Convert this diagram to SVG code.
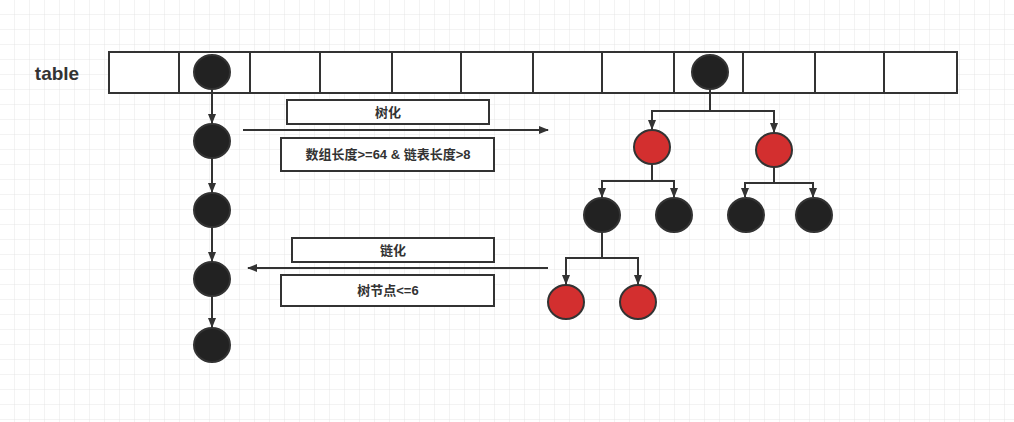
<svg xmlns="http://www.w3.org/2000/svg" width="1014" height="422" viewBox="0 0 1014 422">
<defs>
<pattern id="g" width="15" height="15" patternUnits="userSpaceOnUse"><path d="M15 0V15H0" fill="none" stroke="#e6e6e6" stroke-width="1"/></pattern>
<marker id="a" markerWidth="10" markerHeight="10" refX="9" refY="5" orient="auto" markerUnits="userSpaceOnUse"><path d="M0 1L10 5L0 9Z" fill="#333"/></marker>
</defs>
<style>
.b{fill:#222;stroke:#333;stroke-width:2}
.r{fill:#d32f2f;stroke:#333;stroke-width:2}
.c{fill:none;stroke:#333;stroke-width:2;marker-end:url(#a)}
.bx{fill:#fff;stroke:#333;stroke-width:2}
text{font-family:"Liberation Sans","Noto Sans CJK SC",sans-serif;fill:#333;text-anchor:middle}
.t{font-size:13px;font-weight:bold}
</style>
<rect width="1014" height="422" fill="#fff"/>
<rect width="1014" height="422" fill="url(#g)"/>
<text x="57" y="80" style="font-size:19px;font-weight:bold">table</text>
<g id="table">
<rect x="109" y="52" width="848" height="41" class="bx"/>
<path d="M179 52V93M250 52V93M320 52V93M392 52V93M461 52V93M533 52V93M602 52V93M674 52V93M743 52V93M815 52V93M884 52V93" stroke="#333" stroke-width="2"/>
</g>
<g id="connectors">
<path class="c" d="M212 89V123"/>
<path class="c" d="M212 158V192"/>
<path class="c" d="M212 227V261"/>
<path class="c" d="M212 296V327"/>
<path class="c" d="M243 130H548"/>
<path class="c" d="M548 268H248"/>
<path class="c" d="M710 89V111H652V129"/>
<path class="c" d="M710 111H774V132"/>
<path class="c" d="M652 164V181H602V197"/>
<path class="c" d="M652 181H674V197"/>
<path class="c" d="M774 167V183H745V197"/>
<path class="c" d="M774 183H813V197"/>
<path class="c" d="M602 232V258H566V284"/>
<path class="c" d="M602 258H638V284"/>
</g>
<g id="n1"><ellipse cx="212" cy="72" rx="18" ry="17" class="b"/></g>
<g id="n2"><ellipse cx="710" cy="72" rx="18" ry="17" class="b"/></g>
<g id="n3"><ellipse cx="212" cy="141" rx="18" ry="17" class="b"/></g>
<g id="n4"><ellipse cx="212" cy="210" rx="18" ry="17" class="b"/></g>
<g id="n5"><ellipse cx="212" cy="279" rx="18" ry="17" class="b"/></g>
<g id="n6"><ellipse cx="212" cy="345" rx="18" ry="17" class="b"/></g>
<g id="r1"><ellipse cx="652" cy="147" rx="18" ry="17" class="r"/></g>
<g id="r2"><ellipse cx="774" cy="150" rx="18" ry="17" class="r"/></g>
<g id="n7"><ellipse cx="602" cy="215" rx="18" ry="17" class="b"/></g>
<g id="n8"><ellipse cx="674" cy="215" rx="18" ry="17" class="b"/></g>
<g id="n9"><ellipse cx="746" cy="215" rx="18" ry="17" class="b"/></g>
<g id="n10"><ellipse cx="814" cy="215" rx="18" ry="17" class="b"/></g>
<g id="r3"><ellipse cx="566" cy="302" rx="18" ry="17" class="r"/></g>
<g id="r4"><ellipse cx="638" cy="302" rx="18" ry="17" class="r"/></g>
<g id="l1"><rect x="287" y="100" width="202" height="24" class="bx"/><text x="388" y="117" class="t">树化</text></g>
<g id="l2"><rect x="281" y="138" width="213" height="33" class="bx"/><text x="388" y="159" class="t">数组长度&gt;=64 &amp; 链表长度&gt;8</text></g>
<g id="l3"><rect x="292" y="238" width="202" height="24" class="bx"/><text x="393" y="255" class="t">链化</text></g>
<g id="l4"><rect x="281" y="275" width="213" height="31" class="bx"/><text x="388" y="295" class="t">树节点&lt;=6</text></g>
</svg>
